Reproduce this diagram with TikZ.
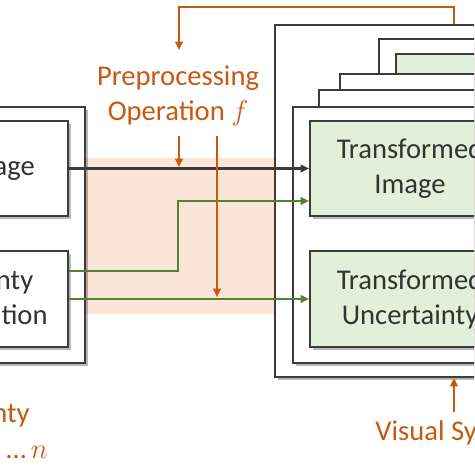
\documentclass[tikz,border=0pt]{standalone}
\usepackage{fontspec}
\setmainfont{Carlito}
\usetikzlibrary{arrows.meta,shadows}
\definecolor{orng}{HTML}{C55A11}
\definecolor{grn}{HTML}{548235}
\definecolor{gfill}{HTML}{E2F0D9}
\definecolor{peach}{HTML}{FBE5D6}
\definecolor{bord}{HTML}{3C3C3C}
\definecolor{txt}{HTML}{333333}
\begin{document}
\begin{tikzpicture}[x=0.5pt,y=-0.5pt,
  lbl/.style={font=\fontsize{14.3}{17.5}\selectfont, text=txt, align=center},
  olbl/.style={font=\fontsize{14.3}{17.5}\selectfont, text=orng, align=center},
  shd/.style={drop shadow={shadow xshift=1.4pt,shadow yshift=-1.4pt,opacity=0.28,fill=black}},
  wbox/.style={draw=bord, line width=1pt, fill=white, inner sep=0pt, shd},
  gbox/.style={draw=bord, line width=1pt, fill=gfill, inner sep=0pt, shd, lbl},
  ibox/.style={draw=bord, line width=1pt, fill=white, inner sep=0pt, shd, lbl},
  tip/.style={-{Triangle[length=4.2pt,width=3.8pt]}},
  karr/.style={draw=bord, line width=1.1pt, tip},
  garr/.style={draw=grn, line width=1.15pt, tip},
  oarr/.style={draw=orng, line width=1.25pt, tip},
]
\useasboundingbox (0,0) rectangle (474,474);
\clip (0,0) rectangle (474,474);
% shaded band
\fill[peach] (86,158) rectangle (275,314);
% left group
\node[wbox, minimum width=120pt, minimum height=128pt] (lout) at (-35,235) {};
\node[ibox, minimum width=103pt, minimum height=47.5pt] (limg) at (-35,168.5) {Input Image};
\node[ibox, minimum width=103pt, minimum height=48pt] (lunc) at (-35,299) {Uncertainty\\Quantification};
% right group
\node[wbox, minimum width=135pt, minimum height=176pt] (rout) at (410,201) {};
\node[wbox, minimum width=117pt, minimum height=128pt] (la) at (496,167) {};
\node[gbox, minimum width=100pt, minimum height=47.5pt] (ga) at (496,101.5) {};
\node[wbox, minimum width=117pt, minimum height=128pt] (lb) at (457,202) {};
\node[wbox, minimum width=117pt, minimum height=128pt] (lc) at (436,218) {};
\node[wbox, minimum width=117pt, minimum height=128pt] (ld) at (410,235) {};
\node[gbox, minimum width=100pt, minimum height=47.5pt] (g1) at (410,168.5) {Transformed\\Image};
\node[gbox, minimum width=100pt, minimum height=48pt] (g2) at (410,299) {Transformed\\Uncertainty};
% labels
\node[olbl] (pp) at (178,96) {Preprocessing\\Operation $f$};
\node[olbl, inner sep=0pt, anchor=base west] (vs) at (375,440) {Visual Symbols};
\node[olbl, inner sep=0pt, anchor=base east] (ul1) at (30,422) {Uncertainty};
\node[olbl, inner sep=0pt, anchor=base east] (ul2) at (48,458) {Type $i=1$ …\,$n$};
% coordinates
\coordinate (o1s) at (179,136);
\coordinate (o1e) at (179,167);
\coordinate (o2s) at (217,136);
\coordinate (o2e) at (217,297);
\coordinate (fbtop) at (454,7);
\coordinate (fbend) at (179,50);
\coordinate (vsa) at (454,412);
% connectors
\draw[karr] (limg.east) -- (g1.west);
\draw[garr] ([yshift=14pt]lunc.east) -| (178,201) -- ([yshift=-16.25pt]g1.west);
\draw[garr] (lunc.east) -- (g2.west);
\draw[oarr] (o1s) -- (o1e);
\draw[oarr] (o2s) -- (o2e);
\draw[oarr] ([xshift=22pt]rout.north) -- (fbtop) -| (fbend);
\draw[oarr] (vsa) -- ([xshift=22pt]rout.south);
\end{tikzpicture}
\end{document}
